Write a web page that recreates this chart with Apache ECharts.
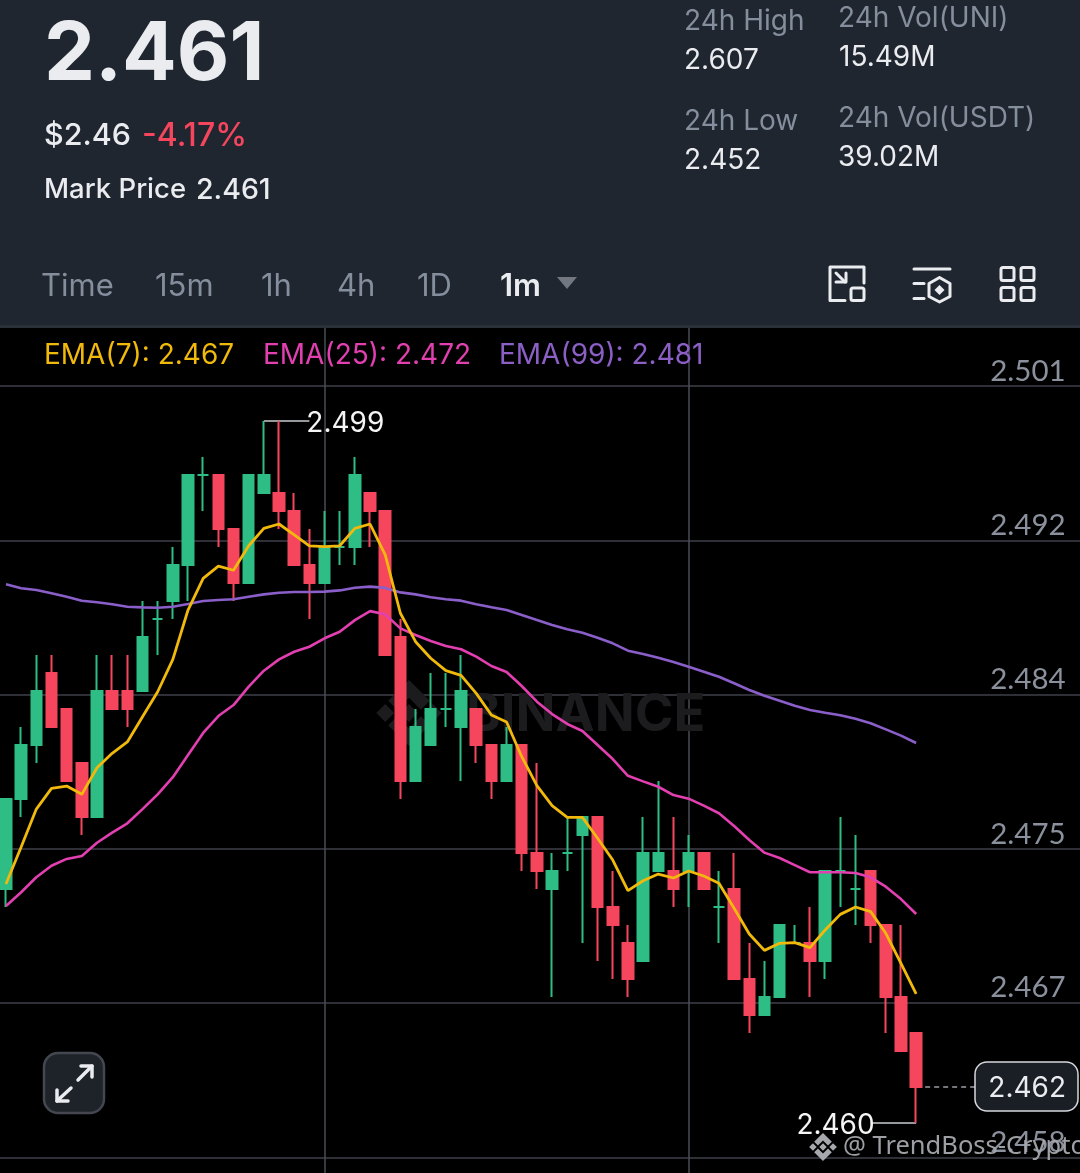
<!DOCTYPE html>
<html><head><meta charset="utf-8">
<style>html,body{margin:0;padding:0;background:#000}#c{width:1080px;height:1173px}</style>
<script src="https://cdn.jsdelivr.net/npm/echarts@6/dist/echarts.min.js"></script>
</head><body><div id="c"></div>
<script>
// ---- data ----
const slots = Array.from({length:72},(_,i)=>String(i));
const opens = [2.473,2.478,2.481,2.485,2.483,2.480,2.477,2.484,2.484,2.484,2.488,2.489,2.491,2.496,2.496,2.493,2.490,2.495,2.495,2.494,2.491,2.490,2.492,2.492,2.495,2.494,2.487,2.479,2.481,2.483,2.482,2.483,2.481,2.479,2.481,2.475,2.473,2.475,2.476,2.477,2.472,2.470,2.469,2.474,2.474,2.474,2.475,2.472,2.473,2.468,2.466,2.467,2.470,2.470,2.469,2.474,2.473,2.474,2.471,2.467,2.465];
const closes= [2.478,2.481,2.484,2.482,2.479,2.477,2.484,2.483,2.483,2.487,2.488,2.491,2.496,2.496,2.493,2.490,2.496,2.496,2.494,2.491,2.490,2.492,2.492,2.496,2.494,2.486,2.479,2.482,2.483,2.483,2.484,2.481,2.479,2.481,2.475,2.474,2.474,2.475,2.477,2.472,2.471,2.468,2.475,2.475,2.473,2.475,2.473,2.472,2.468,2.466,2.467,2.471,2.470,2.469,2.474,2.474,2.473,2.471,2.467,2.464,2.462];
const lows  = [2.472,2.477,2.480,2.482,2.479,2.476,2.477,2.483,2.482,2.484,2.486,2.488,2.489,2.494,2.492,2.489,2.490,2.495,2.493,2.491,2.488,2.490,2.491,2.491,2.492,2.486,2.478,2.479,2.481,2.482,2.479,2.480,2.478,2.479,2.474,2.473,2.467,2.474,2.470,2.469,2.468,2.467,2.469,2.474,2.472,2.472,2.473,2.470,2.468,2.465,2.466,2.467,2.470,2.467,2.468,2.472,2.471,2.470,2.465,2.464,2.460];
const highs = [2.478,2.482,2.486,2.486,2.483,2.480,2.486,2.486,2.486,2.489,2.489,2.492,2.496,2.497,2.496,2.493,2.496,2.499,2.499,2.495,2.493,2.494,2.494,2.497,2.495,2.494,2.488,2.483,2.485,2.485,2.486,2.483,2.481,2.482,2.481,2.480,2.475,2.477,2.477,2.477,2.474,2.471,2.477,2.479,2.477,2.476,2.475,2.474,2.475,2.470,2.469,2.471,2.471,2.472,2.474,2.477,2.476,2.474,2.471,2.471,2.465];
const ema7 = [2.47328,2.47533,2.47744,2.47859,2.47872,2.47826,2.47974,2.48054,2.48117,2.48257,2.48396,2.48576,2.4885,2.49026,2.49094,2.49071,2.49207,2.49304,2.49328,2.49267,2.49206,2.49202,2.49207,2.49304,2.49328,2.49156,2.48832,2.48674,2.48582,2.48513,2.48487,2.48387,2.48267,2.48228,2.48035,2.47874,2.47763,2.47698,2.47698,2.47582,2.47461,2.47291,2.47346,2.47383,2.47361,2.474,2.47372,2.47332,2.47193,2.4705,2.46959,2.46998,2.47002,2.46974,2.47072,2.47159,2.472,2.47174,2.47054,2.46887,2.46717];
const ema25= [2.47206,2.47282,2.47365,2.47429,2.47467,2.47483,2.47557,2.47613,2.47665,2.47744,2.47826,2.47921,2.48044,2.48167,2.48261,2.48322,2.48424,2.48513,2.48576,2.48618,2.48646,2.48693,2.48729,2.48794,2.48844,2.48826,2.48748,2.48711,2.48678,2.4865,2.48632,2.48591,2.48539,2.48506,2.48428,2.48341,2.48272,2.48217,2.48178,2.481,2.48022,2.47929,2.47898,2.47868,2.47822,2.47802,2.47763,2.47721,2.4765,2.47572,2.47502,2.47472,2.47433,2.47393,2.47393,2.47393,2.47389,2.47365,2.47313,2.47244,2.47161];
const ema99= [2.48993,2.48971,2.48961,2.48943,2.48924,2.48902,2.48893,2.48882,2.48868,2.48865,2.48863,2.48868,2.48883,2.489,2.48906,2.4891,2.48924,2.48937,2.48946,2.4895,2.4895,2.48952,2.48959,2.48974,2.4898,2.48973,2.48948,2.48937,2.48921,2.4891,2.48902,2.48882,2.48865,2.4885,2.48822,2.48794,2.48767,2.48743,2.48724,2.48696,2.48665,2.48624,2.48606,2.48585,2.48561,2.48535,2.48507,2.48479,2.48443,2.48406,2.48374,2.48346,2.48318,2.48294,2.48279,2.48265,2.48246,2.48221,2.48187,2.48152,2.48111];
const yTicks = [2.45806,2.46667,2.47522,2.48378,2.49236,2.50094];
const yMin = 2.45722, yMax = 2.50417;
const lastPrice = 2.462, highPrice = 2.499, lowPrice = 2.460;

// ---- colours ----
const UP='#2ebd85', DOWN='#f6465d', GRID='#3f414a', GREY='#848e9c', HEAD='#1f2630', WHITE='#eaecef';
const FONT='Inter';

// ---- chrome helpers ----
const g=[];
function T(x,y,text,size,fill,opt){opt=opt||{};g.push({type:'text',x,y,z:opt.z||100,silent:true,style:{text,fill,font:(opt.weight||'normal')+' '+size+'px '+(opt.family||FONT),textAlign:opt.align||'left',textVerticalAlign:'middle',verticalAlign:'middle',opacity:opt.opacity==null?1:opt.opacity}});}
function R(x,y,w,h,fill,opt){opt=opt||{};g.push({type:'rect',z:opt.z||100,silent:true,shape:{x,y,width:w,height:h,r:opt.r||0},style:{fill:fill,stroke:opt.stroke||null,lineWidth:opt.lw||0,opacity:opt.opacity==null?1:opt.opacity}});}
function P(points,stroke,lw,opt){opt=opt||{};g.push({type:opt.fill?'polygon':'polyline',z:opt.z||100,silent:true,shape:{points},style:{stroke:opt.fill?null:stroke,fill:opt.fill||null,lineWidth:lw,lineCap:'round',lineJoin:'round'}});}

// header
R(0,0,1080,325,HEAD); R(0,325,1080,3,'#2b3139');
T(44,56,'2.461',81,WHITE,{weight:'bold'});
T(44,136,'$2.46',30.5,WHITE,{weight:'500'});
T(142,136,'-4.17%',32,DOWN,{weight:'500'});
T(44,190,'Mark Price',27.5,WHITE,{weight:'500'});
T(196,190,'2.461',28.5,WHITE,{weight:'500'});
T(684,22,'24h High',28,GREY); T(684,61,'2.607',28,WHITE);
T(838,19,'24h Vol(UNI)',28,GREY); T(839,58,'15.49M',28,WHITE);
T(684,122,'24h Low',28,GREY); T(684,161,'2.452',28,WHITE);
T(838,119,'24h Vol(USDT)',28,GREY); T(838,158,'39.02M',28,WHITE);
[['Time',41],['15m',155],['1h',261],['4h',337],['1D',417]].forEach(a=>T(a[1],287,a[0],31,GREY));
T(500,287,'1m',31,WHITE,{weight:'600'});
P([[557,277],[577,277],[567,289]],null,0,{fill:'#73777f'});
// icons
const I='#eaecef';
P([[864,283],[864,267],[830,267],[830,300.5],[845,300.5]],I,3);
R(851,288,13,12.5,'none',{stroke:I,lw:3,r:2});
P([[836,273],[845,282]],I,3); P([[836,282],[846,282],[846,273]],I,3);
P([[914,269],[950,269]],I,3); P([[914,283.5],[924,283.5]],I,3); P([[914,298.5],[924,298.5]],I,3);
P([[939.5,277.5],[950,283.5],[950,296.5],[939.5,302],[929,296.5],[929,283.5],[939.5,277.5]],I,3);
P([[939.5,285],[944.5,290],[939.5,295],[934.5,290]],null,0,{fill:I});
[[1001,267.5],[1021,267.5],[1001,287.5],[1021,287.5]].forEach(p=>R(p[0],p[1],13,13,'none',{stroke:I,lw:3,r:2}));
// legend
T(44,356,'EMA(7): 2.467',28,'#f0b90b');
T(263,356,'EMA(25): 2.472',28,'#e23fb0');
T(499,356,'EMA(99): 2.481',28,'#8c5fc6');
// binance watermark
const W='#1c1c1e';
T(466,715,'BINANCE',52.5,W,{weight:'bold',z:1});
function logo(cx,cy,r,fill,z){
  const d=(x,y,s)=>g.push({type:'polygon',z,silent:true,shape:{points:[[x,y-s],[x+s,y],[x,y+s],[x-s,y]]},style:{fill}});
  d(cx,cy,r*.27); d(cx-r*.72,cy,r*.27); d(cx+r*.72,cy,r*.27);
  const chev=(sgn)=>g.push({type:'polygon',z,silent:true,shape:{points:[[cx,cy+sgn*r],[cx+r*.63,cy+sgn*r*.37],[cx+r*.36,cy+sgn*r*.1],[cx,cy+sgn*r*.46],[cx-r*.36,cy+sgn*r*.1],[cx-r*.63,cy+sgn*r*.37]]},style:{fill}});
  chev(-1); chev(1);
}
logo(409,713,33,W,1);
// expand button
R(44,1053,60,60,'#1e2329',{stroke:'#44474f',lw:2.5,r:14});
P([[78,1080],[92,1066]],I,3.5); P([[81,1066],[92,1066],[92,1077]],I,3.5);
P([[71,1088],[57,1101]],I,3.5); P([[57,1090],[57,1101],[68,1101]],I,3.5);
// current-price tag
R(975,1062,103,49,'#1a1e25',{stroke:'#d5d8dc',lw:1.5,r:12});
T(1066,1089,lastPrice.toFixed(3),28,WHITE,{align:'right'});
// user watermark
logo(823,1147,14,'#a5a8ad',100);
T(843,1147,'@ TrendBoss-Crypto',25.5,'#a5a8ad',{family:'Noto Sans',opacity:.95});

const chart=echarts.init(document.getElementById('c'),null,{renderer:'canvas'});
const lineS=(name,data,color,width)=>({name,type:'line',data,symbol:'none',silent:true,smooth:false,lineStyle:{color,width},z:3,animation:false});
const extremeLabel={show:true,color:'#f5f5f5',fontFamily:FONT,fontSize:28};
chart.setOption({
  animation:false,backgroundColor:'#000',
  graphic:{elements:g},
  grid:{left:-1.6,top:328,width:1092.2,height:845,containLabel:false,outerBoundsMode:'none'},
  xAxis:{type:'category',data:slots,boundaryGap:true,axisLine:{show:false},axisTick:{show:false},axisLabel:{show:false},
    splitLine:{show:true,alignWithLabel:true,interval:(i)=>i===21||i===45,lineStyle:{color:'#4a4c57',width:1.5}}},
  yAxis:{type:'value',position:'right',min:yMin,max:yMax,axisLine:{show:false},
    axisTick:{show:false,customValues:yTicks},
    splitLine:{show:true,lineStyle:{color:GRID,width:1.5}},
    axisLabel:{customValues:yTicks,inside:true,margin:25,verticalAlign:'bottom',padding:[0,0,0,0],color:'#8b919c',fontFamily:'Lato',fontSize:29.5,formatter:v=>v.toFixed(3),showMinLabel:true,showMaxLabel:true}},
  series:[
    {name:'candles',type:'candlestick',barWidth:11,z:2,silent:true,
     data:opens.map((o,i)=>[o,closes[i],lows[i],highs[i]]),
     itemStyle:{color:UP,borderColor:UP,color0:DOWN,borderColor0:DOWN,borderColorDoji:UP,borderWidth:2},
     markLine:{silent:true,symbol:'none',z:1,animation:false,label:{show:false},
       data:[
        [{coord:['60',lastPrice],lineStyle:{color:'#9a9da3',width:1.5,type:[5,4]}},{coord:['64',lastPrice]}],
        [{coord:['17',highPrice],lineStyle:{color:'#c9ccd1',width:1.5,type:'solid'}},{coord:['20',highPrice]}],
        [{coord:['60',lowPrice],lineStyle:{color:'#c9ccd1',width:1.5,type:'solid'}},{coord:['57',lowPrice]}]
       ]},
     markPoint:{silent:true,symbol:'circle',symbolSize:0,animation:false,z:6,
       data:[
        {coord:['20',highPrice],value:highPrice,label:{...extremeLabel,position:'right',distance:-3,offset:[0,3],formatter:highPrice.toFixed(3)}},
        {coord:['57',lowPrice],value:lowPrice,label:{...extremeLabel,position:'left',distance:-4,offset:[0,3],formatter:lowPrice.toFixed(3)}}
       ]}},
    lineS('EMA(99)',ema99,'#8a5fc9',2.6),
    lineS('EMA(25)',ema25,'#e23fb0',2.6),
    lineS('EMA(7)',ema7,'#f0b90b',2.8)
  ]
});
</script></body></html>
